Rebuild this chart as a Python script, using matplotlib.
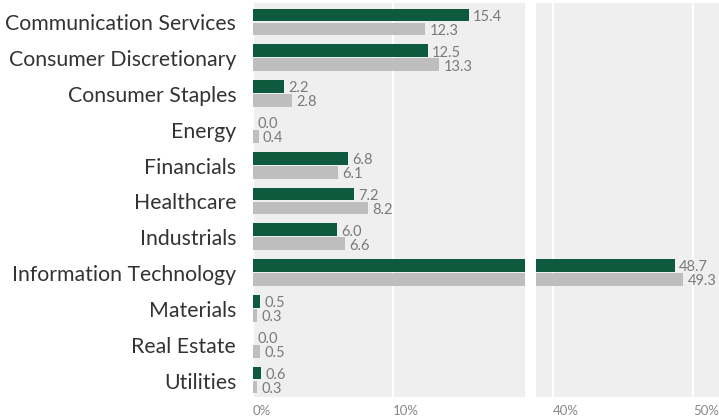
import matplotlib.pyplot as plt

plt.rcParams['font.family'] = ['Lato', 'DejaVu Sans']

categories = ["Communication Services", "Consumer Discretionary", "Consumer Staples",
              "Energy", "Financials", "Healthcare", "Industrials",
              "Information Technology", "Materials", "Real Estate", "Utilities"]
fund = [15.4, 12.5, 2.2, 0.0, 6.8, 7.2, 6.0, 48.7, 0.5, 0.0, 0.6]
index = [12.3, 13.3, 2.8, 0.4, 6.1, 8.2, 6.6, 49.3, 0.3, 0.5, 0.3]
left_ticks = [0, 10]
right_ticks = [40, 50]

GREEN = "#0d5a3e"
GREY = "#bebebe"
BG = "#efefef"

fig = plt.figure(figsize=(7.19, 4.2), dpi=100)
ax1 = fig.add_axes([253 / 719, 1 - 397 / 420, 272 / 719, 394 / 420])
ax2 = fig.add_axes([536 / 719, 1 - 397 / 420, 183 / 719, 394 / 420])

left_lim = (0, 19.43)
right_lim = (38.79, 51.86)

y = list(range(len(categories)))
h = 0.36
off = 0.195

for ax, lim, ticks in [(ax1, left_lim, left_ticks), (ax2, right_lim, right_ticks)]:
    ax.set_facecolor(BG)
    ax.barh([i - off for i in y], fund, height=h, color=GREEN, zorder=3)
    ax.barh([i + off for i in y], index, height=h, color=GREY, zorder=3)
    ax.set_xlim(*lim)
    ax.set_ylim(10.475, -0.53)
    ax.set_xticks(ticks)
    ax.set_xticklabels([f"{t}%" for t in ticks], ha="left", color="#888888", fontsize=9.5)
    ax.tick_params(axis="x", length=0, pad=6)
    ax.grid(axis="x", color="white", linewidth=1.5, zorder=1)
    for s in ax.spines.values():
        s.set_visible(False)
    ax.set_yticks([])
    # value labels go in the panel where the bar ends
    for i in y:
        for v, dy in [(fund[i], -off), (index[i], off)]:
            if lim[0] <= v <= lim[1] or (ax is ax1 and v < lim[0]):
                ax.text(v + 0.3, i + dy + 0.05, f"{v:.1f}", va="center", ha="left",
                        color="#7a7a7a", fontsize=10.5, zorder=4)

for i, c in zip(y, categories):
    ax1.text(-1.2, i + 0.07, c, ha="right", va="center", fontsize=15.3, color="#333333")

fig.savefig("out.png", dpi=100)
